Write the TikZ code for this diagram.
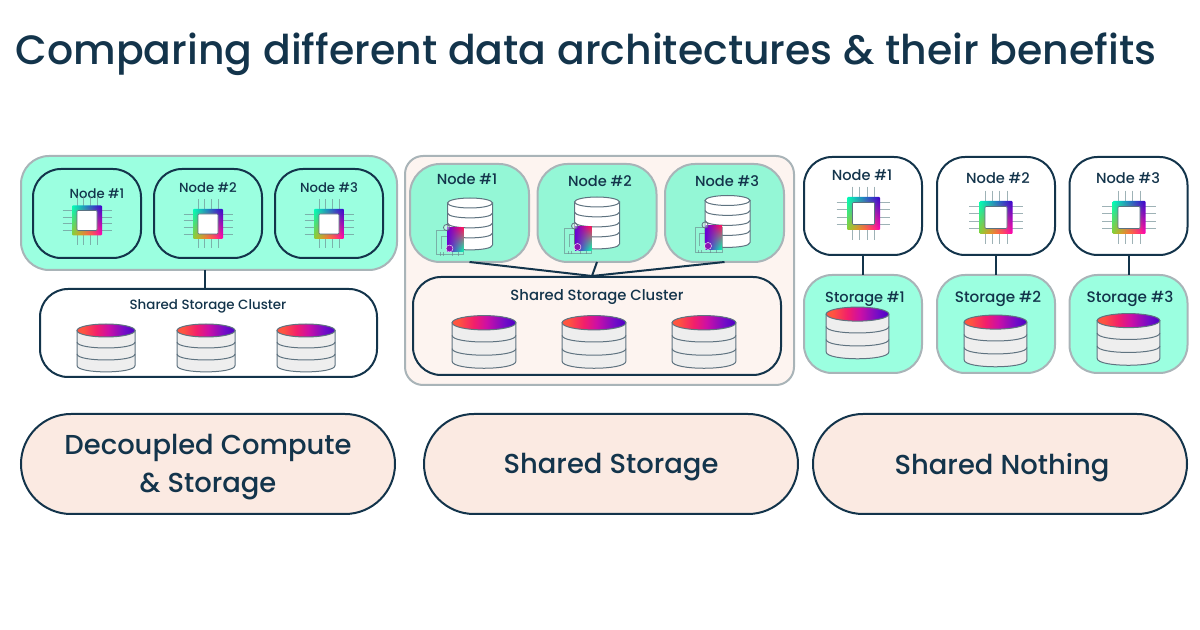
\documentclass[tikz,border=0pt]{standalone}
\usepackage{fontspec}
\setmainfont{Poppins Medium}
\definecolor{ink}{HTML}{13344B}
\definecolor{mint}{HTML}{9BFFE0}
\definecolor{softmint}{HTML}{94F7D6}
\definecolor{edgegray}{HTML}{A9B4B8}
\definecolor{blush}{HTML}{FDF4F0}
\definecolor{peach}{HTML}{FBEAE2}
\definecolor{dbedge}{HTML}{5F7380}
\definecolor{dbbody}{HTML}{EEEEEE}
\definecolor{pincol}{HTML}{6B8A8F}
\definecolor{dotcol}{HTML}{8A14B4}
\newcommand{\shadechan}[6]{#1 index #4 mul #3 add #1 index #5 mul add #2 index #2 index mul #6 mul add}
\newcommand{\shadebump}[2]{#1 index dup 1 exch sub mul #1 index 1 exch sub mul #2 mul add}
\pgfdeclarefunctionalshading{chipgrad}{\pgfpoint{-50bp}{-50bp}}{\pgfpoint{50bp}{50bp}}{}{
	25 add 50 div exch 25 add 50 div exch
	\shadechan{1}{2}{.55}{.45}{-.55}{-.2}
	\shadebump{2}{.9}
	\shadechan{2}{3}{.8}{-.8}{.2}{-.2}
	\shadebump{3}{.2}
	\shadechan{3}{4}{.2}{.52}{.52}{-.44}
	\shadebump{4}{-1}
	5 -2 roll pop pop}
\pgfdeclarefunctionalshading{smallgrad}{\pgfpoint{-50bp}{-50bp}}{\pgfpoint{50bp}{50bp}}{}{
	25 add 50 div exch 25 add 50 div exch
	\shadechan{1}{2}{.45}{-.45}{-.05}{1.05}
	\shadechan{2}{3}{0}{1}{0}{-.9}
	\shadechan{3}{4}{.8}{-.1}{.05}{-.4}
	5 -2 roll pop pop}
\pgfdeclarehorizontalshading{dbgrad}{100bp}{
	rgb(0bp)=(1,.33,.25); rgb(30bp)=(1,.33,.25); rgb(42bp)=(.95,.12,.42);
	rgb(52bp)=(.8,.06,.65); rgb(66bp)=(.45,.05,.78); rgb(75bp)=(.3,0,.78); rgb(100bp)=(.3,0,.78)}
\tikzset{
	box/.style={draw=ink, line width=1pt, rounded corners=14pt, inner sep=0pt, outer sep=0pt, minimum width=54pt, minimum height=44.5pt},
	graybox/.style={box, draw=edgegray, fill=softmint, minimum width=59.5pt, minimum height=49pt, rounded corners=15pt},
	sidebox/.style={box, minimum width=59pt, minimum height=49pt},
	pill/.style={box, fill=peach, minimum width=187pt, minimum height=50pt, rounded corners=25pt},
	lab/.style={text=ink, inner sep=0pt, font=\fontsize{6.6}{8}\selectfont},
	midlab/.style={lab, font=\fontsize{7.3}{8}\selectfont},
	biglab/.style={text=ink, inner sep=0pt, align=center, font=\fontsize{13.7}{19}\selectfont},
	link/.style={draw=ink, line width=1pt},
	pinline/.style={draw=pincol, line width=.45pt, opacity=.65},
	dbline/.style={draw=dbedge, line width=.5pt},
	chip/.pic={
		\foreach \p in {-10,-3.3,3.3,10} {
			\draw[pinline] (\p,-24.5) -- (\p,24.5);
			\draw[pinline] (-24.5,\p) -- (24.5,\p);
		}
		\path[shading=chipgrad, rounded corners=.5pt] (-15,-15) rectangle (15,15);
		\draw[fill=white, draw=ink!70, line width=.3pt, rounded corners=.5pt] (-10,-10) rectangle (10,10);
	},
	smallchip/.pic={
		\draw[pinline] (-18.5,-10) rectangle (8.5,14.5);
		\draw[pinline] (-14,9) -- (-14,-4) -- (-8,-4);
		\foreach \p in {-15,-12,-3,3} {
			\draw[pinline] (\p,12.5) -- (\p,16);
		}
		\path[shading=smallgrad] (-8,-12) rectangle (8.5,12);
		\draw[fill=white, fill opacity=.4, draw=dbedge, line width=.4pt] (-8.5,-12.5) circle (3);
		\draw[fill=dotcol, draw=white, line width=.2pt] (-5.5,8.5) circle (3.5);
	},
	colordb/.pic={
		\draw[dbline, fill=dbbody] (-29,-17.5) -- (-29,17.5) .. controls (-29,26) and (29,26) .. (29,17.5) -- (29,-17.5) -- cycle;
		\foreach \h in {-6,6} {
			\draw[dbline] (-29,\h) .. controls (-29,\h+8) and (29,\h+8) .. (29,\h);
		}
		\path[shading=dbgrad] (0,-17.5) ellipse [x radius=29, y radius=6.5];
		\draw[dbline] (0,-17.5) ellipse [x radius=29, y radius=6.5];
	},
	whitedb/.pic={
		\draw[dbline, fill=white] (-22.5,-21) -- (-22.5,21) .. controls (-22.5,27.5) and (22.5,27.5) .. (22.5,21) -- (22.5,-21) -- cycle;
		\foreach \h in {-11,-1,9} {
			\draw[dbline] (-22.5,\h) .. controls (-22.5,\h+6.5) and (22.5,\h+6.5) .. (22.5,\h);
		}
		\draw[dbline, fill=white] (0,-21) ellipse [x radius=22.5, y radius=5];
	},
}
\begin{document}
\begin{tikzpicture}[x=.5pt, y=-.5pt]
	\useasboundingbox (0,0) rectangle (1200,630);
	\node (title) at (586,54) [text=ink, inner sep=0pt, font=\fontsize{20.5}{24}\selectfont] {Comparing different data architectures \& their benefits};

	\node (group) at (209,213) [box, draw=edgegray, fill=mint, minimum width=188pt, minimum height=57pt] {};
	\node (a1) at (87,213.5) [box] {};
	\node (a2) at (208,213.5) [box] {};
	\node (a3) at (329,213.5) [box] {};
	\node (la1) at (97,194) [lab] {Node \#1};
	\node (la2) at (208,188) [lab] {Node \#2};
	\node (la3) at (329,188) [lab] {Node \#3};
	\pic at (87,220.5) {chip};
	\pic at (208,224) {chip};
	\pic at (329,224) {chip};
	\node (clusterA) at (208.5,333) [box, fill=white, minimum width=168.5pt, minimum height=44pt] {};
	\node (lclusterA) at (208,306.5) [lab, font=\fontsize{6.7}{8}\selectfont] {Shared Storage Cluster};
	\pic at (106,348) {colordb};
	\pic at (206,348) {colordb};
	\pic at (306,348) {colordb};
	\coordinate (ja) at (205,280);
	\draw[link] (ja |- group.south) -- (ja |- clusterA.north);

	\node (groupB) at (599.5,270.5) [box, draw=edgegray, fill=blush, minimum width=194.5pt, minimum height=114.5pt, rounded corners=9pt] {};
	\node (b1) at (469.5,213) [graybox] {};
	\node (b2) at (597,213) [graybox] {};
	\node (b3) at (724.5,213) [graybox] {};
	\node (lb1) at (467,179) [midlab] {Node \#1};
	\node (lb2) at (600,181) [midlab] {Node \#2};
	\node (lb3) at (727,181) [midlab] {Node \#3};
	\pic at (470,224) {whitedb};
	\pic at (597,223) {whitedb};
	\pic at (727.5,221.5) {whitedb};
	\pic at (455,240) {smallchip};
	\pic at (583,238.5) {smallchip};
	\pic at (713.5,237.5) {smallchip};
	\node (clusterB) at (597,326) [box, fill=blush, minimum width=184pt, minimum height=49pt] {};
	\node (lclusterB) at (597,297) [lab, font=\fontsize{7.4}{8}\selectfont] {Shared Storage Cluster};
	\pic[scale=1.1] at (484,342) {colordb};
	\pic[scale=1.1] at (594,342) {colordb};
	\pic[scale=1.1] at (704,342) {colordb};
	\coordinate (hub) at (592,276);
	\draw[link] (b1.south) -- (hub);
	\draw[link] (b2.south) -- (hub);
	\draw[link] (b3.south) -- (hub);

	\node (c1) at (863,206) [sidebox, fill=white] {};
	\node (c2) at (996,206) [sidebox, fill=white] {};
	\node (c3) at (1128.5,206) [sidebox, fill=white] {};
	\node (lc1) at (862,175) [midlab] {Node \#1};
	\node (lc2) at (998,178) [midlab] {Node \#2};
	\node (lc3) at (1128,178) [midlab] {Node \#3};
	\pic[scale=1.1] at (863.5,213.5) {chip};
	\pic[scale=1.1] at (996,217.5) {chip};
	\pic[scale=1.1] at (1129,217.5) {chip};
	\node (s1) at (863,324) [sidebox, draw=edgegray, fill=mint] {};
	\node (s2) at (996,324) [sidebox, draw=edgegray, fill=mint] {};
	\node (s3) at (1128.5,324) [sidebox, draw=edgegray, fill=mint] {};
	\node (ls1) at (865,299) [midlab] {Storage \#1};
	\node (ls2) at (998,299) [midlab, font=\fontsize{7.6}{8}\selectfont] {Storage \#2};
	\node (ls3) at (1130,299) [midlab, font=\fontsize{7.6}{8}\selectfont] {Storage \#3};
	\pic[scale=1.08] at (857.5,333) {colordb};
	\pic[scale=1.08] at (995.5,341) {colordb};
	\pic[scale=1.08] at (1128.5,339.5) {colordb};
	\draw[link] (c1.south) -- (s1.north);
	\draw[link] (c2.south) -- (s2.north);
	\draw[link] (c3.south) -- (s3.north);

	\node (p1) at (208,464) [pill] {};
	\node (p2) at (611,464) [pill] {};
	\node (p3) at (1000,464) [pill] {};
	\node (lp1) at (208,467.5) [biglab] {Decoupled Compute\\\& Storage};
	\node (lp2) at (611,467.5) [biglab] {Shared Storage};
	\node (lp3) at (1002,467.5) [biglab] {Shared Nothing};
\end{tikzpicture}
\end{document}
